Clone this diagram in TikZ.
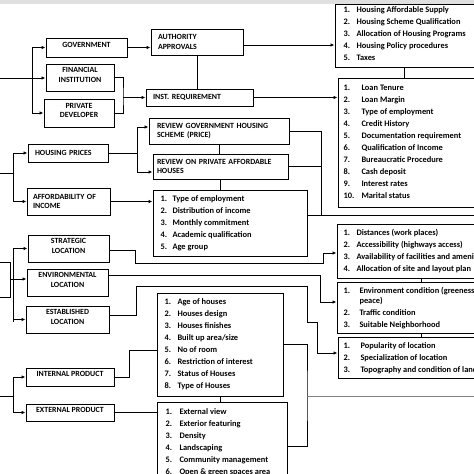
\documentclass[tikz,border=0pt]{standalone}
\usepackage{fontspec}
\setmainfont{Carlito}
\usetikzlibrary{arrows.meta, positioning, fit}

\begin{document}
\begin{tikzpicture}[x=1pt, y=-1pt, line width=1pt,
        every node/.style={font=\fontsize{7.9}{9.5}\selectfont\bfseries},
        box/.style={draw, inner sep=0pt, align=center},
        lbox/.style={draw, inner sep=0pt, align=left},
        item/.style={anchor=mid west, inner sep=0pt, font=\fontsize{8.4}{10}\selectfont\bfseries},
        arr/.style={-{Latex[length=4pt,width=3.5pt]}}]
        \clip (0,0) rectangle (474,474);
        \fill[black!12] (0,0) rectangle (474,4);

        % first group
        \node[box, fit={(46,38) (127,57)}] (gov) {GOVERNMENT};
        \node[box, fit={(46,64) (114,91)}] (fin) {FINANCIAL\\INSTITUTION};
        \node[box, fit={(44,99) (114,127)}] (priv) {PRIVATE\\DEVELOPER};
        \node[lbox, minimum width=92pt, minimum height=26pt, text width=78pt] (auth) at (197,42) {AUTHORITY\\APPROVALS};
        \node[lbox, minimum width=107pt, minimum height=17pt, text width=93pt] (inst) at (199.5,97.5) {INST. REQUIREMENT};
        \node[box, fit={(335,4) (500,67)}] (supply) {};
        \node[box, fit={(338,78) (500,207)}] (loan) {};

        % second group
        \node[lbox, minimum width=80pt, minimum height=18pt, text width=66pt] (hprice) at (68,153) {HOUSING PRICES};
        \node[lbox, minimum width=140pt, minimum height=26pt, text width=124pt] (revgov) at (219,131) {REVIEW GOVERNMENT HOUSING\\SCHEME (PRICE)};
        \node[lbox, minimum width=135pt, minimum height=25pt, text width=127pt] (revpriv) at (220.5,166.5) {REVIEW ON PRIVATE AFFORDABLE\\HOUSES};
        \node[lbox, minimum width=83pt, minimum height=27pt, text width=71pt] (afford) at (68.5,201.5) {AFFORDABILITY OF\\INCOME};
        \node[box, fit={(153,190) (307,256)}] (income) {};

        % location group
        \node[box, fit={(-20,262) (10,297)}] (locparent) {};
        \node[box, fit={(28,235) (109,262)}] (strat) {STRATEGIC\\LOCATION};
        \node[box, fit={(27,269) (108,296)}] (env) {ENVIRONMENTAL\\LOCATION};
        \node[box, fit={(26,306) (109,333)}] (estab) {ESTABLISHED\\LOCATION};
        \node[box, fit={(337,224) (500,278)}] (loc) {};
        \node[box, fit={(337,282) (500,333)}] (envc) {};
        \node[box, fit={(338,337) (500,378)}] (pop) {};

        % product group
        \node[box, fit={(26,368) (114,386)}] (intp) {INTERNAL PRODUCT};
        \node[box, fit={(26,404) (114,421)}] (extp) {EXTERNAL PRODUCT};
        \node[box, fit={(157,293) (283,396)}] (age) {};
        \node[box, fit={(157,402) (287,490)}] (ext) {};

        % list items
        \foreach \t [count=\i] in {Housing Affordable Supply, Housing Scheme Qualification,
            Allocation of Housing Programs, Housing Policy procedures, Taxes}{
            \node[item] at (343, 10+12*\i-12) {\i.};
            \node[item] at (356, 10+12*\i-12) {\t};
        }
        \foreach \t [count=\i] in {Loan Tenure, Loan Margin, Type of employment, Credit History,
            Documentation requirement, Qualification of Income, Bureaucratic Procedure,
            Cash deposit, Interest rates, Marital status}{
            \node[item] at (343, 88+12*\i-12) {\i.};
            \node[item] at (361, 88+12*\i-12) {\t};
        }
        \foreach \t [count=\i] in {Type of employment, Distribution of income, Monthly commitment,
            Academic qualification, Age group}{
            \node[item] at (160, 199+12*\i-12) {\i.};
            \node[item] at (172, 199+12*\i-12) {\t};
        }
        \foreach \t [count=\i] in {Distances (work places), Accessibility (highways access),
            Availability of facilities and amenities, Allocation of site and layout plan}{
            \node[item] at (343, 233+12*\i-12) {\i.};
            \node[item] at (356, 233+12*\i-12) {\t};
        }
        \node[item] at (343,291) {1.};
        \node[item] at (359,291) {Environment condition (greeness,};
        \node[item] at (359,301) {peace)};
        \node[item] at (343,313) {2.};
        \node[item] at (359,313) {Traffic condition};
        \node[item] at (343,325) {3.};
        \node[item] at (359,325) {Suitable Neighborhood};
        \foreach \t [count=\i] in {Popularity of location, Specialization of location,
            Topography and condition of land}{
            \node[item] at (343, 346+12*\i-12) {\i.};
            \node[item] at (360, 346+12*\i-12) {\t};
        }
        \foreach \t [count=\i] in {Age of houses, Houses design, Houses finishes, Built up area/size,
            No of room, Restriction of interest, Status of Houses, Type of Houses}{
            \node[item] at (164, 302+12*\i-12) {\i.};
            \node[item] at (177, 302+12*\i-12) {\t};
        }
        \foreach \t [count=\i] in {External view, Exterior featuring, Density, Landscaping,
            Community management, Open \& green spaces area}{
            \node[item] at (165, 412+12*\i-12) {\i.};
            \node[item] at (179, 412+12*\i-12) {\t};
        }

        % connectors, first group
        \coordinate (in1) at (0,78);
        \coordinate (b1) at (32,78);
        \draw[arr] (in1) -- (in1 -| fin.west);
        \draw[arr] (b1) |- (gov.west);
        \draw[arr] (b1) |- (priv.west);
        \draw[arr] (gov.east) -- (gov.east -| auth.west);
        \coordinate (j1) at (123,97.5);
        \draw (fin.east) -| (j1) |- (priv.east);
        \draw[arr] (j1) -- (inst.west);
        \draw (auth.south) -- (auth.south |- inst.north);
        \draw[arr] ([yshift=-3pt]auth.east) -- ([yshift=-3pt]auth.east -| supply.west);
        \draw[arr] (inst.east) -- (inst.east -| loan.west);
        \coordinate (t1) at (404,0);
        \draw (supply.south -| t1) -- (loan.north -| t1);

        % connectors, second group
        \coordinate (in2) at (0,173);
        \coordinate (b2) at (13,173);
        \draw (in2) -- (b2);
        \draw[arr] (b2) |- (hprice.west);
        \draw[arr] (b2) |- (afford.west);
        \coordinate (b3) at (137,153);
        \draw (hprice.east) -- (b3);
        \draw[arr] (b3) |- ([yshift=4pt]revgov.west);
        \draw[arr] (b3) |- ([yshift=-5.5pt]revpriv.west);
        \draw (revgov.south) -- (revpriv.north -| revgov.south);
        \draw (revpriv.south) -- (revpriv.south |- income.north);
        \draw[arr] (afford.east) -- (afford.east -| income.west);
        \coordinate (j2) at (321,215);
        \coordinate (out1) at (480,215);
        \draw (revgov.east) -| (j2);
        \draw (revpriv.east) -- (revpriv.east -| j2);
        \draw (income.east |- j2) -- (out1);

        % connectors, location group
        \coordinate (b4) at (13,279);
        \draw (locparent.east |- b4) -- (b4);
        \draw (b4) -- (13,322);
        \draw[arr] (b4) |- (strat.west);
        \draw[arr] (b4) -- (b4 -| env.west);
        \draw[arr] (b4) |- (estab.west);
        \coordinate (s1) at (135,263);
        \coordinate (s2) at (323,263);
        \draw[arr] ([yshift=-1.5pt]strat.east) -| (s1) -- (s2) |- ([yshift=-2pt]loc.west);
        \coordinate (e1) at (320,302);
        \draw[arr] ([yshift=7.5pt]env.east) -| (e1) -- (e1 -| envc.west);
        \coordinate (t2) at (136,286);
        \coordinate (t3) at (307,322);
        \coordinate (t4) at (317,353);
        \draw[arr] ([yshift=4.5pt]estab.east) -| (t2) -| (t3) -| (t4) -- (t4 -| pop.west);
        \coordinate (t5) at (421,0);
        \draw (loc.south -| t5) -- (envc.north -| t5);
        \draw (envc.south -| t5) -- (pop.north -| t5);

        % connectors, product group
        \coordinate (in3) at (0,396);
        \coordinate (b5) at (13,396);
        \draw (in3) -- (b5);
        \draw[arr] (b5) |- (intp.west);
        \draw[arr] (b5) |- (extp.west);
        \coordinate (p1) at (129,350);
        \draw (intp.east) -| (p1) -- (p1 -| age.west);
        \draw (extp.east) -- (extp.east -| ext.west);
        \draw (age.south) -- (age.south |- ext.north);
        \coordinate (j3) at (307,396);
        \coordinate (out2) at (480,396);
        \draw (age.east) -| (j3) |- (ext.east);
        \draw[black!50] (j3) -- (out2);
\end{tikzpicture}
\end{document}
